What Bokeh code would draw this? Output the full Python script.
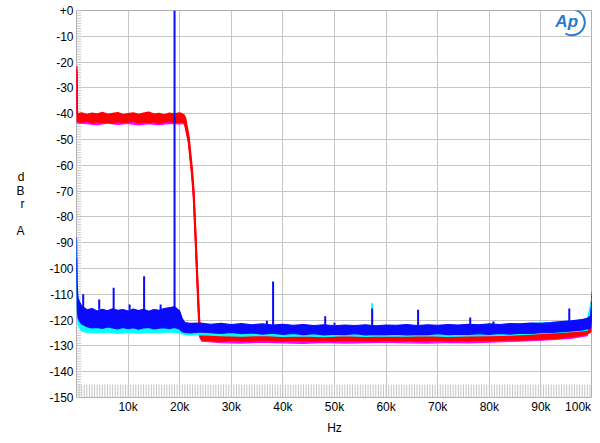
import numpy as np
from bokeh.plotting import figure
from bokeh.models import FixedTicker, Label, CustomJSTickFormatter
from bokeh.embed import file_html
from bokeh.resources import INLINE

# ---------------- data (frequency in kHz, level in dBr A) ----------------
# red trace: noise at -41 dB with steep roll-off above 21 kHz (upper / lower envelope)
red_f = [0, 0.12, 1, 2, 3, 4, 5, 6, 7, 8, 9, 10, 11, 12, 13, 14, 15, 16, 17, 18, 19, 20,
         20.8, 21.1, 21.75, 22.4, 22.7, 23.05, 23.4, 23.7, 23.9, 24.3,
         26, 28, 30, 32, 34, 36, 38, 40, 42, 44, 46, 48, 50, 52, 54, 56, 58, 60, 62, 64,
         66, 68, 70, 72, 74, 76, 78, 80, 82, 84, 86, 88, 90, 92, 94, 96, 98, 99, 99.6, 100]
red_hi = [-21.5, -40.2, -39.8, -40.5, -39.9, -40.3, -39.6, -40.4, -40.0, -39.7, -40.5, -40.1,
          -39.8, -40.4, -39.9, -39.5, -40.3, -40.0, -40.6, -39.9, -40.2, -39.8,
          -40.6, -41.8, -49.0, -62.0, -70.0, -85.5, -102.5, -116.5, -124.0, -124.6,
          -124.6, -125.0, -124.4, -124.9, -124.5, -124.8, -124.3, -124.7, -124.9, -124.4,
          -124.8, -124.5, -124.9, -124.6, -124.3, -124.8, -124.5, -124.9, -124.4, -124.7,
          -124.5, -124.9, -124.6, -124.4, -124.8, -124.5, -124.7, -124.4, -124.8, -124.6,
          -124.4, -124.7, -124.3, -124.2, -123.9, -123.6, -123.0, -122.6, -121.5, -109.0]
red_lo = [-23.0, -42.8, -43.2, -42.7, -43.5, -42.9, -43.4, -43.0, -43.6, -42.8, -43.3, -43.1,
          -42.7, -43.5, -43.0, -43.4, -42.9, -43.6, -43.1, -42.8, -43.4, -43.0,
          -43.2, -44.6, -51.0, -64.0, -72.0, -87.5, -104.5, -118.5, -126.0, -127.6,
          -127.8, -128.2, -127.6, -128.0, -127.9, -127.5, -127.8, -128.1, -127.6, -127.9,
          -128.0, -127.7, -128.1, -127.6, -127.9, -127.8, -128.0, -127.6, -127.9, -127.7,
          -128.0, -127.8, -127.6, -127.9, -127.7, -128.0, -127.6, -127.8, -127.7, -127.5,
          -127.6, -127.4, -127.3, -127.0, -126.8, -126.3, -125.8, -125.2, -124.5, -112.0]

# magenta trace (mostly hidden under red)
mag_f = [0, 0.12, 2, 4, 6, 8, 10, 12, 14, 16, 18, 20,
         20.8, 21.1, 21.75, 22.4, 22.7, 23.05, 23.4, 23.7, 23.9, 24.3,
         28, 32, 36, 40, 44, 48, 52, 56, 60, 64, 68, 72, 76, 80, 84, 88, 92, 96, 99, 100]
mag_hi = [-22.0, -40.5, -40.6, -40.2, -40.8, -40.4, -40.7, -40.3, -40.9, -40.5, -40.6, -40.4,
          -41.0, -42.3, -49.5, -62.5, -70.5, -86.0, -103.0, -117.0, -124.5, -125.2,
          -125.4, -125.2, -125.5, -125.3, -125.4, -125.2, -125.5, -125.3, -125.4, -125.2,
          -125.5, -125.3, -125.4, -125.2, -125.1, -124.9, -124.6, -124.2, -123.2, -110.0]
mag_lo = [-23.5, -43.6, -43.9, -44.2, -43.7, -44.1, -43.8, -44.3, -43.9, -44.2, -43.8, -44.0,
          -43.8, -45.2, -51.5, -64.5, -72.5, -88.0, -105.0, -119.0, -126.5, -128.2,
          -128.7, -128.9, -128.5, -128.8, -129.0, -128.6, -128.9, -128.7, -128.5, -128.8,
          -128.9, -128.6, -128.8, -128.5, -128.3, -128.0, -127.6, -127.0, -126.0, -113.0]

# blue trace: 19 kHz tone, residual floor
blue_f = [0, 0.1, 0.3, 0.6, 1, 2, 3, 4, 5, 6, 7, 8, 9, 10, 11, 12, 13, 14, 15, 16, 17, 18, 19, 20,
          20.5, 21, 22, 24, 26, 28, 30, 32, 34, 36, 38, 40, 42, 44, 46, 48, 50, 52, 54, 56, 58,
          60, 62, 64, 66, 68, 70, 72, 74, 76, 78, 80, 82, 84, 86, 88, 90, 92, 94, 96, 98,
          99, 99.6, 100]
blue_hi = [-88.0, -106.0, -111.5, -113.0,
           -114.5, -116.0, -115.5, -116.5, -115.8, -116.4, -115.6, -116.2, -115.9, -116.5,
           -115.7, -116.3, -115.8, -116.6, -115.9, -116.2, -115.5, -115.2, -114.8, -116.5,
           -119.5, -121.0, -121.3,
           -121.2, -121.6, -121.3, -121.7, -121.4, -121.8, -121.5, -121.9, -121.6, -122.0,
           -121.7, -122.1, -121.8, -122.2, -121.9, -122.1, -121.8, -122.2, -121.9, -122.0,
           -121.7, -122.1, -121.8, -122.0, -121.7, -121.9, -121.6, -121.8, -121.5, -121.7,
           -121.4, -121.5, -121.2, -121.3, -121.0, -120.6, -120.3, -119.8,
           -119.3, -118.5, -110.5]
blue_lo = [-96.0, -114.0, -119.0, -120.5,
           -121.5, -122.5, -123.0, -122.8, -123.2, -122.6, -123.0, -123.4, -122.8, -123.3,
           -122.9, -123.5, -123.0, -122.8, -123.4, -123.1, -122.9, -123.3, -122.8, -123.5,
           -124.5, -124.8, -125.0,
           -124.6, -124.9, -125.2, -124.8, -125.3, -125.0, -125.4, -125.1, -125.5, -125.2,
           -125.6, -125.3, -125.7, -125.4, -125.6, -125.3, -125.7, -125.5, -125.6, -125.4,
           -125.7, -125.5, -125.6, -125.3, -125.6, -125.4, -125.5, -125.3, -125.5, -125.2,
           -125.4, -125.1, -125.2, -124.9, -124.8, -124.5, -124.2, -123.8,
           -123.4, -123.0, -114.0]
blue_spk_f = [1.3, 4.4, 7.2, 10.3, 13.1, 16.3, 19.0, 36.9, 38.1, 48.2, 50.0, 57.3, 66.2, 76.3, 80.8, 95.5]
blue_spk_db = [-110, -112, -107.5, -114, -103, -114, 0, -120.3, -105, -118.5, -121, -115.5, -116, -119, -120.5, -115.5]
blue_spk_base = [-116, -116, -116, -116, -116, -116, -116, -122, -122, -122, -122, -122, -122, -122, -122, -121]

# cyan trace (mostly hidden under blue)
cyan_f = [0, 0.1, 0.3, 0.6, 1, 2, 4, 6, 8, 10, 12, 14, 16, 18, 20, 21, 22, 24,
          28, 32, 36, 40, 44, 48, 52, 56, 60, 64, 68, 72, 76, 80, 84, 88, 92, 96, 99, 100]
cyan_hi = [-89.0, -107.0, -112.5, -114.0, -115.5,
           -117.0, -117.2, -116.8, -117.3, -116.9, -117.2, -116.8, -117.1, -116.5, -117.4,
           -121.5, -121.8, -121.8,
           -122.2, -122.4, -122.1, -122.5, -122.3, -122.6, -122.4, -122.6, -122.3, -122.5,
           -122.2, -122.4, -122.1, -122.2, -121.8, -121.4, -120.9, -120.3, -119.6, -111.0]
cyan_lo = [-98.0, -116.0, -121.5, -123.0, -124.2,
           -124.8, -125.0, -124.6, -125.2, -124.8, -125.1, -124.7, -125.0, -124.6, -125.0,
           -125.6, -125.8, -125.6,
           -126.0, -126.2, -125.9, -126.3, -126.1, -126.4, -126.0, -126.3, -126.1, -126.2,
           -126.0, -126.3, -126.1, -126.0, -125.8, -125.4, -125.0, -124.5, -124.0, -115.0]
cyan_spk_f = [57.3]
cyan_spk_db = [-113.5]
cyan_spk_base = [-122]

x_ticks = [10, 20, 30, 40, 50, 60, 70, 80, 90, 97.2]
x_grid = [10, 20, 30, 40, 50, 60, 70, 80, 90, 100]
y_ticks = list(range(-150, 1, 10))
y_title = "d\nB\nr\n\nA"

RED, MAG, BLUE, CYAN = "#ff0000", "#ff00ff", "#0a0aff", "#00ffff"
GRID = "#c6c6c6"
FONT = "Liberation Sans"

# ---------------- figure ----------------
p = figure(width=592, height=442, x_range=(0, 100), y_range=(-150, 0),
           output_backend="svg", toolbar_location=None,
           min_border_left=76, min_border_right=0, min_border_top=10, min_border_bottom=45)
p.background_fill_color = "white"
p.border_fill_color = "white"
p.outline_line_color = "#b0b0b0"

# grids
p.xgrid.ticker = FixedTicker(ticks=x_grid)
p.ygrid.ticker = FixedTicker(ticks=y_ticks)
for g in (p.xgrid, p.ygrid):
    g.grid_line_color = GRID
    g.grid_line_width = 1

# axes
p.xaxis.ticker = FixedTicker(ticks=x_ticks)
p.xaxis.formatter = CustomJSTickFormatter(code="return tick > 95 ? '100k' : tick.toFixed(0) + 'k';")
p.yaxis.ticker = FixedTicker(ticks=y_ticks)
p.yaxis.formatter = CustomJSTickFormatter(code="return tick == 0 ? '+0' : tick.toFixed(0);")
for ax in (p.xaxis, p.yaxis):
    ax.axis_line_color = None
    ax.major_tick_line_color = None
    ax.minor_tick_line_color = None
    ax.major_tick_out = 0
    ax.major_tick_in = 0
    ax.major_label_text_font = FONT
    ax.major_label_text_font_size = "12px"
    ax.major_label_text_color = "black"
    ax.major_label_standoff = 3
    ax.axis_label_text_font = FONT
    ax.axis_label_text_font_size = "12px"
    ax.axis_label_text_font_style = "normal"
    ax.axis_label_text_color = "black"
p.xaxis.major_label_standoff = 2
p.xaxis.axis_label = "Hz"
p.xaxis.axis_label_standoff = 4
p.yaxis.axis_label = y_title
p.yaxis.axis_label_orientation = "horizontal"
p.yaxis.axis_label_text_line_height = 0.95
p.yaxis.axis_label_standoff = 22

# inner minor ticks (decoration)
yt = np.arange(-150, 0.5, 1.0)
p.segment(x0=np.zeros_like(yt), x1=np.full_like(yt, 0.9), y0=yt, y1=yt,
          line_color=GRID, line_width=1)
xt = np.arange(0.5, 100, 0.5)
p.segment(x0=xt, x1=xt, y0=np.full_like(xt, -150), y1=np.full_like(xt, -145),
          line_color=GRID, line_width=1)

# traces
def band(f, hi, lo, color, w=1.2):
    p.varea(x=f, y1=hi, y2=lo, fill_color=color)
    p.line(f, hi, line_color=color, line_width=w)
    p.line(f, lo, line_color=color, line_width=w)

band(mag_f, mag_hi, mag_lo, MAG)
band(red_f, red_hi, red_lo, RED, 2)
band(cyan_f, cyan_hi, cyan_lo, CYAN)
p.segment(x0=cyan_spk_f, x1=cyan_spk_f, y0=cyan_spk_base, y1=cyan_spk_db,
          line_color=CYAN, line_width=2)
band(blue_f, blue_hi, blue_lo, BLUE)
p.segment(x0=blue_spk_f, x1=blue_spk_f, y0=blue_spk_base, y1=blue_spk_db,
          line_color=BLUE, line_width=2)

# Ap logo
LOGO = "#2a7bd0"
p.arc(x=[96.0], y=[-4.6], radius=2.5, start_angle=-2.1, end_angle=1.35,
      line_color=LOGO, line_width=2)
p.add_layout(Label(x=95.0, y=-4.4, text="Ap", text_font=FONT, text_font_size="17px",
                   text_font_style="bold italic", text_color=LOGO,
                   text_align="center", text_baseline="middle"))

open("out.html", "w").write(file_html(p, INLINE))
